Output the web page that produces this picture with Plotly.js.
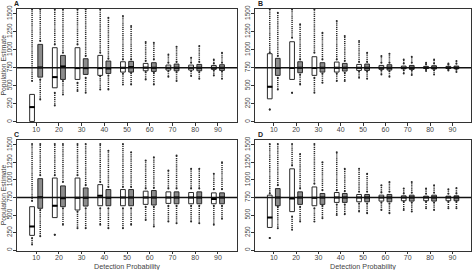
<!DOCTYPE html>
<html><head><meta charset="utf-8">
<script src="https://cdn.plot.ly/plotly-3.0.1.min.js"></script>
<style>html,body{margin:0;padding:0;background:#fff}#chart{width:474px;height:270px}</style>
</head><body><div id="chart"></div>
<script>
const cats = [10,20,30,40,50,60,70,80,90];
const yTicks = [0,250,500,750,1000,1250,1500];
const trueN = 750;
const panelLabels = ['A','B','C','D'];
const xTitle = 'Detection Probability';
const yTitle = 'Population Estimate';

// Panel A – white
const aW_q1 = [5, 472, 588, 644, 690, 708, 718, 718, 727];
const aW_med = [204, 620, 745, 745, 750, 752, 750, 750, 750];
const aW_q3 = [380, 1028, 1028, 921, 833, 810, 787, 787, 782];
const aW_upLo = [565, 1074, 1074, 958, 866, 843, 820, 820, 810];
const aW_upHi = [1560, 1560, 1560, 1560, 1468, 1107, 935, 889, 866];
const aW_loHi = [null, 403, 542, 634, 671, 690, 704, 704, 713];
const aW_loLo = [null, 227, 426, 449, 519, 588, 625, 634, 644];
// Panel A – gray
const aG_q1 = [620, 588, 657, 671, 690, 699, 708, 708, 713];
const aG_med = [754, 768, 745, 740, 759, 750, 750, 750, 750];
const aG_q3 = [1074, 921, 875, 843, 838, 820, 801, 796, 792];
const aG_upLo = [1120, 958, 912, 875, 866, 866, 829, 829, 820];
const aG_upHi = [1560, 1560, 1560, 1445, 1329, 1097, 1042, 1051, 958];
const aG_loHi = [588, 565, 611, 644, 681, 681, 690, 690, 699];
const aG_loLo = [310, 380, 403, 449, 519, 519, 565, 597, 597];

// Panel B – white
const bW_q1 = [319, 588, 644, 690, 713, 727, 736, 741, 741];
const bW_med = [486, 745, 745, 750, 750, 750, 750, 750, 750];
const bW_q3 = [945, 1111, 903, 829, 796, 782, 773, 769, 769];
const bW_upLo = [960, 1167, 958, 866, 829, 820, 810, 796, 792];
const bW_upHi = [1560, 1560, 1560, 1398, 1120, 912, 866, 820, 810];
const bW_loHi = [171, 403, 611, 671, 699, 713, 718, 727, 727];
const bW_loLo = [171, 403, 403, 565, 611, 657, 671, 704, 713];
// Panel B – gray
const bG_q1 = [644, 681, 690, 704, 713, 718, 727, 732, 736];
const bG_med = [745, 750, 750, 750, 750, 750, 750, 750, 750];
const bG_q3 = [880, 833, 820, 810, 801, 792, 782, 778, 773];
const bG_upLo = [912, 866, 866, 843, 829, 820, 820, 810, 806];
const bG_upHi = [1514, 1352, 1236, 1190, 958, 945, 903, 866, 843];
const bG_loHi = [611, 657, 671, 681, 699, 704, 713, 718, 727];
const bG_loLo = [449, 519, 542, 565, 597, 625, 648, 657, 690];

// Panel C – white
const cW_q1 = [211, 464, 572, 633, 633, 652, 666, 661, 661];
const cW_med = [338, 633, 746, 774, 750, 750, 750, 750, 727];
const cW_q3 = [619, 1027, 1027, 933, 863, 840, 830, 821, 816];
const cW_upLo = [700, 1065, 1065, 971, 900, 877, 877, 877, 868];
const cW_upHi = [1510, 1510, 1510, 1510, 1510, 1276, 1135, 1158, 1088];
const cW_loHi = [174, 220, 549, 596, 596, 619, 633, 633, 633];
const cW_loLo = [80, 220, 314, 361, 314, 431, 408, 408, 361];
// Panel C – gray
const cG_q1 = [596, 619, 628, 633, 633, 643, 661, 661, 661];
const cG_med = [755, 741, 746, 746, 750, 750, 750, 750, 750];
const cG_q3 = [1018, 915, 886, 863, 863, 849, 830, 830, 816];
const cG_upLo = [1065, 971, 924, 900, 900, 886, 877, 877, 868];
const cG_upHi = [1510, 1510, 1510, 1416, 1393, 1323, 1346, 1158, 1252];
const cG_loHi = [572, 596, 596, 596, 596, 619, 633, 633, 633];
const cG_loLo = [197, 361, 314, 314, 361, 338, 385, 385, 446];

// Panel D – white
const dW_q1 = [324, 549, 633, 680, 689, 699, 704, 704, 704];
const dW_med = [464, 736, 746, 750, 750, 750, 750, 750, 750];
const dW_q3 = [783, 1158, 900, 821, 793, 783, 774, 769, 769];
const dW_upLo = [807, 1205, 947, 854, 830, 821, 807, 802, 802];
const dW_upHi = [1510, 1510, 1510, 1393, 1158, 924, 877, 877, 868];
const dW_loHi = [174, 478, 596, 652, 666, 680, 689, 689, 689];
const dW_loLo = [174, 291, 408, 502, 549, 572, 572, 596, 596];
// Panel D – gray
const dG_q1 = [633, 652, 652, 680, 689, 689, 699, 699, 704];
const dG_med = [750, 750, 750, 750, 750, 750, 750, 750, 750];
const dG_q3 = [877, 830, 807, 807, 793, 793, 783, 783, 774];
const dG_upLo = [924, 877, 854, 840, 830, 830, 816, 816, 807];
const dG_upHi = [1510, 1370, 1252, 1158, 1088, 971, 971, 924, 886];
const dG_loHi = [619, 619, 633, 652, 666, 666, 680, 680, 689];
const dG_loLo = [314, 408, 455, 511, 525, 525, 549, 572, 596];

const panels = [
  {W:[aW_q1,aW_med,aW_q3,aW_upLo,aW_upHi,aW_loHi,aW_loLo], G:[aG_q1,aG_med,aG_q3,aG_upLo,aG_upHi,aG_loHi,aG_loLo]},
  {W:[bW_q1,bW_med,bW_q3,bW_upLo,bW_upHi,bW_loHi,bW_loLo], G:[bG_q1,bG_med,bG_q3,bG_upLo,bG_upHi,bG_loHi,bG_loLo]},
  {W:[cW_q1,cW_med,cW_q3,cW_upLo,cW_upHi,cW_loHi,cW_loLo], G:[cG_q1,cG_med,cG_q3,cG_upLo,cG_upHi,cG_loHi,cG_loLo]},
  {W:[dW_q1,dW_med,dW_q3,dW_upLo,dW_upHi,dW_loHi,dW_loLo], G:[dG_q1,dG_med,dG_q3,dG_upLo,dG_upHi,dG_loHi,dG_loLo]}
];

const OFF = 1.8, BW = 2.1;
const INK = '#2a2a2a';
const traces = [];
panels.forEach((p, i) => {
  const xa = i === 0 ? 'x' : 'x' + (i+1);
  const ya = i === 0 ? 'y' : 'y' + (i+1);
  [['W', -OFF, '#ffffff'], ['G', OFF, '#8c8c8c']].forEach(([k, off, fill]) => {
    const [q1, med, q3, upLo, upHi, loHi, loLo] = p[k];
    const xs = cats.map(c => c + off);
    const ox = [], oy = [];
    cats.forEach((c, j) => {
      ox.push(xs[j], xs[j], null); oy.push(upLo[j], upHi[j], null);
      if (loHi[j] !== null) { ox.push(xs[j], xs[j], null); oy.push(loHi[j], loLo[j], null); }
    });
    traces.push({type:'scatter', mode:'lines+markers', x: ox, y: oy, xaxis: xa, yaxis: ya,
      line:{color: INK, width: 1.5, dash: '1.2px,0.9px'}, marker:{size: 2, color: INK},
      hoverinfo:'skip', showlegend:false, connectgaps:false});
    traces.push({type:'box', x: xs, q1: q1, median: med, q3: q3, lowerfence: q1, upperfence: q3,
      xaxis: xa, yaxis: ya, width: BW, fillcolor: fill, line:{color: INK, width: 1},
      whiskerwidth: 0, boxpoints: false, showlegend:false, hoverinfo:'skip'});
    const mx = [], my = [];
    cats.forEach((c, j) => { mx.push(xs[j] - BW/2 - 0.15, xs[j] + BW/2 + 0.15, null); my.push(med[j], med[j], null); });
    traces.push({type:'scatter', mode:'lines', x: mx, y: my, xaxis: xa, yaxis: ya,
      line:{color:'#000', width: 2}, hoverinfo:'skip', showlegend:false});
  });
});

const FONT = 'Liberation Sans, Arial, sans-serif';
const xDom = [[0.036, 0.5], [0.538, 0.994]];
const yDom = [[0.548, 0.967], [0.072, 0.482]];
const yRng = [[-3, 1566], [-5, 1570]];
const layout = {
  width: 474, height: 270, margin:{l:0, r:0, t:0, b:0},
  paper_bgcolor:'#fff', plot_bgcolor:'#fff', showlegend:false,
  font:{family: FONT, size: 7, color:'#444'},
  shapes: [], annotations: []
};
for (let i = 0; i < 4; i++) {
  const col = i % 2, row = Math.floor(i / 2);
  const xk = i === 0 ? 'xaxis' : 'xaxis' + (i+1);
  const yk = i === 0 ? 'yaxis' : 'yaxis' + (i+1);
  const xa = i === 0 ? 'x' : 'x' + (i+1);
  const ya = i === 0 ? 'y' : 'y' + (i+1);
  layout[xk] = {domain: xDom[col], anchor: ya, range:[1.6, 98.4], tickvals: cats,
    showline:true, mirror:true, linecolor:'#333', linewidth:1, ticks:'outside', ticklen:2.5, tickcolor:'#333',
    ticklabelstandoff: -2,
    showgrid:false, zeroline:false, tickfont:{size:7, color:'#444'}};
  layout[yk] = {domain: yDom[row], anchor: xa, range: yRng[row], tickvals: yTicks,
    showline:true, mirror:true, linecolor:'#333', linewidth:1, ticks:'outside', ticklen:3, tickcolor:'#333',
    ticklabelstandoff: -2,
    showgrid:false, zeroline:false, tickangle:-90, tickfont:{size:6.5, color:'#444'}};
  layout.shapes.push({type:'line', xref: xa + ' domain', yref: ya, x0:0, x1:1, y0: trueN, y1: trueN,
    line:{color:'#111', width:1.3}, layer:'above'});
  layout.annotations.push({text:'<b>' + panelLabels[i] + '</b>', xref:'paper', yref:'paper',
    x: xDom[col][0], y: yDom[row][1], xanchor: col === 0 ? 'right' : 'left', yanchor:'bottom',
    xshift: col === 0 ? 4 : 1, yshift: 0, showarrow:false, font:{size:7, color:'#222'}});
  if (col === 0) {
    layout.annotations.push({text: yTitle, textangle:-90, xref:'paper', yref:'paper',
      x: 0, y: (yDom[row][0] + yDom[row][1]) / 2, xanchor:'left', yanchor:'middle', xshift:-2,
      showarrow:false, font:{size:6.8, color:'#444'}});
  }
  if (row === 1) {
    layout.annotations.push({text: xTitle, xref:'paper', yref:'paper',
      x: (xDom[col][0] + xDom[col][1]) / 2, y: 0, xanchor:'center', yanchor:'bottom', yshift:-3,
      showarrow:false, font:{size:7.2, color:'#444'}});
  }
}
Plotly.newPlot('chart', traces, layout, {staticPlot:true, displayModeBar:false});
</script></body></html>
